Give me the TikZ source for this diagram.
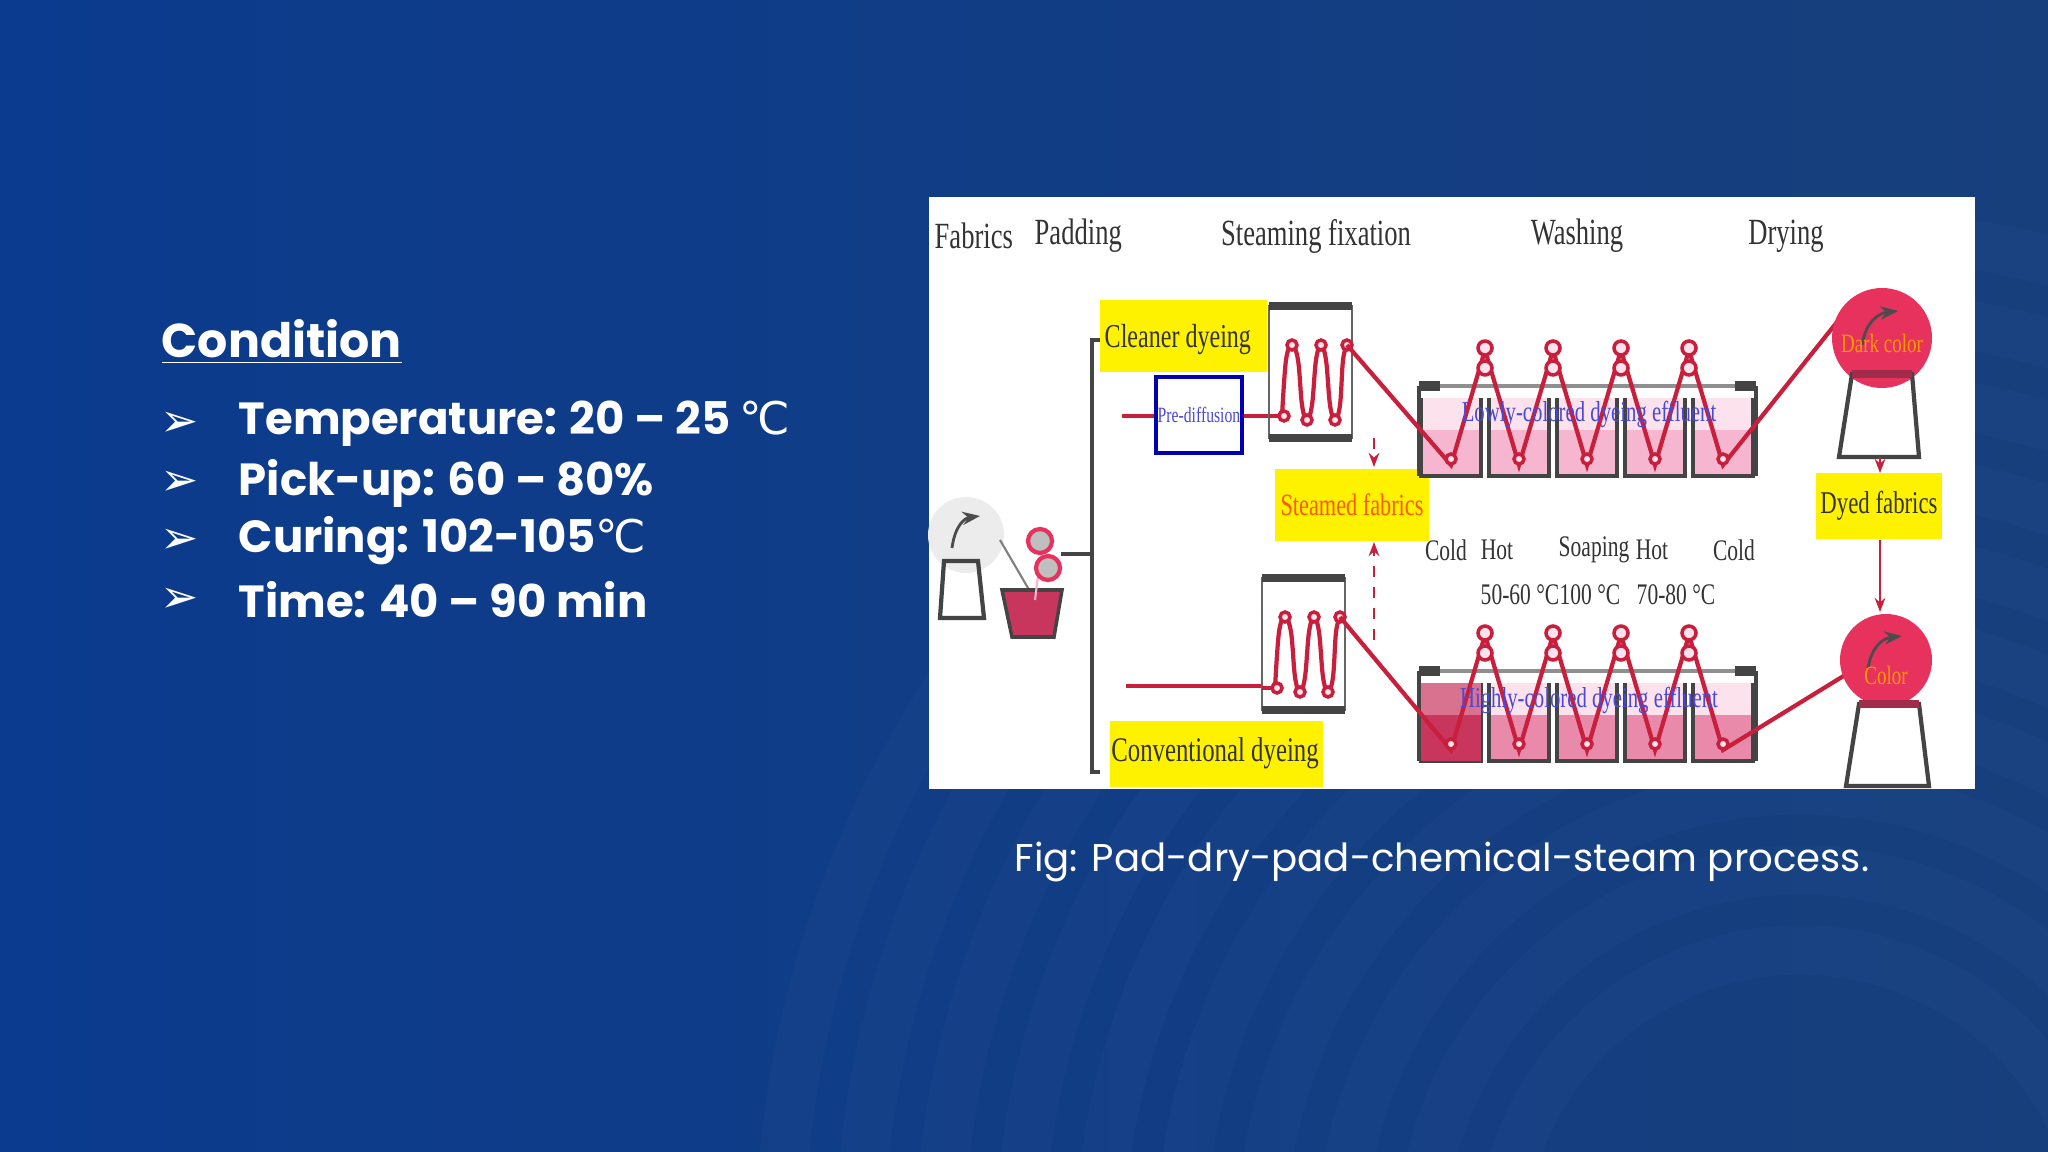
\documentclass[tikz,border=0pt]{standalone}
\usepackage{fontspec}
\setmainfont{Poppins}
\newfontfamily\symfont{DejaVu Sans}
\newfontfamily\figfont[FakeStretch=0.72]{Liberation Serif}
\usetikzlibrary{arrows.meta}
\definecolor{bgL}{HTML}{0B3B8E}
\definecolor{bgR}{HTML}{173F7C}
\definecolor{arc}{HTML}{2A5296}
\definecolor{rline}{HTML}{C8203C}
\definecolor{pinkA}{HTML}{F7B6CF}
\definecolor{pinkB}{HTML}{FBE2EC}
\definecolor{pinkC}{HTML}{E98AAA}
\definecolor{darkred}{HTML}{C8365E}
\definecolor{circ}{HTML}{E8325E}
\definecolor{frameg}{HTML}{444444}
\definecolor{eff}{HTML}{4A48D8}
\tikzset{
 slide/.style={text=white,font=\bfseries\fontsize{12.8}{16}\selectfont,anchor=west,inner sep=0},
 ftxt/.style={font=\figfont\fontsize{10.5}{11}\selectfont,text=black!80,inner sep=0},
 ybox/.style={fill=yellow,draw=none,inner sep=0},
 rl/.style={draw=rline,line width=1.2pt},
 knot/.style={draw=rline,line width=1pt,fill=pinkB},
 tank/.style={draw=frameg,line width=1.2pt},
 rot/.style={draw=black!70,line width=0.8pt,-{Stealth[length=5pt]}},
}
\begin{document}
\begin{tikzpicture}[x=0.01cm,y=-0.01cm]
\shade[left color=bgL,right color=bgR] (0,0) rectangle (2048,1152);
\useasboundingbox (0,0) rectangle (2048,1152);
\begin{scope}
\clip (0,0) rectangle (2048,1152);
\foreach \r in {300,380,460,540,620,700,780,860,940,1020}
 \draw[arc,opacity=0.18,line width=14pt] (1800,1250) circle (\r);
\end{scope}
% left text
\node[slide,font=\bfseries\fontsize{13.5}{16}\selectfont] (cond) at (161,342) {\underline{Condition}};
\foreach \y/\t [count=\i] in {424/{Temperature: 20 -- 25 {\symfont\mdseries ℃}},483/{Pick-up: 60 -- 80\%},541/{Curing: 102-105{\symfont\mdseries ℃}},600/{Time: 40 -- 90 min}}{
 \node[slide,font=\symfont\fontsize{13}{16}\selectfont] (b\i) at (160,\y) {➢};
 \node[slide] (t\i) at (238,\y) {\t};
}
\node[text=white,font=\fontsize{11}{13}\selectfont,inner sep=0] (cap) at (1442,862) {Fig: Pad-dry-pad-chemical-steam process.};
% figure
\fill[white] (929,197) rectangle (1975,789);
\node[ftxt,anchor=west] (h1) at (934,236) {Fabrics};
\node[ftxt,anchor=west] (h2) at (1034,236) {Padding};
\node[ftxt] (h3) at (1316,236) {Steaming fixation};
\node[ftxt] (h4) at (1577,236) {Washing};
\node[ftxt] (h5) at (1786,236) {Drying};
% fabrics roll and padding
\fill[gray!15] (966,535) circle (38);
\draw[rot] (952,548) .. controls (955,525) and (965,518) .. (980,516);
\draw[tank] (944,561) -- (978,561) -- (984,618) -- (940,618) -- cycle;
\draw[gray,line width=0.6pt] (1000,540) -- (1035,600);
\fill[darkred] (1002,590) -- (1062,590) -- (1054,637) -- (1012,637) -- cycle;
\draw[frameg,line width=1pt] (1002,590) -- (1062,590) -- (1054,637) -- (1012,637) -- cycle;
\draw[pinkA,line width=0.6pt] (1035,600) -- (1040,560);
\draw[circ,line width=1.2pt,fill=gray!50] (1040,541) circle (12);
\draw[circ,line width=1.2pt,fill=gray!50] (1048,568) circle (12);
\draw[frameg,line width=1.2pt] (1061,554) -- (1092,554);
% bracket
\draw[frameg,line width=1.2pt] (1100,340) -- (1092,340) -- (1092,772) -- (1100,772);
% cleaner/conventional
\node[ybox,minimum width=1.67cm,minimum height=0.72cm,anchor=north west] (cl) at (1099,299) {};
\node[ftxt,font=\figfont\fontsize{9.5}{10}\selectfont,anchor=west] at (1104,340) {Cleaner dyeing};
\node[ybox,minimum width=2.13cm,minimum height=0.66cm,anchor=north west] (cv) at (1109,720) {};
\node[ftxt,font=\figfont\fontsize{9.8}{10}\selectfont] at (1215,753) {Conventional dyeing};
% pre-diffusion
\draw[rl] (1122,416) -- (1269,416);
\node[draw=blue!70!black,line width=1.2pt,fill=white,minimum width=0.86cm,minimum height=0.76cm,inner sep=0] (pd) at (1199,415) {};
\node[ftxt,font=\figfont\fontsize{6.2}{7}\selectfont,text=eff] at (1199,415) {Pre-diffusion};
\draw[rl] (1126,686) -- (1262,686);
% steam boxes
\foreach \dx/\dy [count=\k] in {0/0,-7/272}{
\begin{scope}[shift={(\dx,\dy)}]
 \fill[white] (1269,306) rectangle (1352,438);
 \draw[black!60,line width=0.8pt] (1269,306) rectangle (1352,438);
 \draw[frameg,line width=2.5pt] (1269,306) -- (1352,306) (1269,438) -- (1352,438);
 \draw[rl] plot[smooth,tension=0.6] coordinates {(1282,416) (1286,360) (1292,345) (1298,360) (1302,405) (1307,420) (1312,405) (1316,360) (1321,345) (1326,360) (1330,405) (1335,420) (1340,405) (1343,360) (1347,345)};
 \draw[rl] (1269,416) -- (1282,416);
 \foreach \px/\py in {1292/345,1307/420,1321/345,1335/420,1347/345,1284/416}
  \draw[knot] (\px,\py) circle (5);
\end{scope}}
% steamed fabrics
\node[ybox,minimum width=1.53cm,minimum height=0.71cm] (sf) at (1352,505) {};
\node[ftxt,text=orange!70!red,font=\figfont\fontsize{8.8}{9}\selectfont] at (1352,505) {Steamed fabrics};
\draw[rline,dashed,line width=0.8pt,-{Stealth[length=4pt]}] (1374,438) -- (1374,467);
\draw[rline,dashed,line width=0.8pt,-{Stealth[length=4pt]}] (1374,640) -- (1374,542);
% washing tanks
\foreach \dy/\fa/\fb [count=\k] in {0/pinkA/pinkB,285/pinkC/pinkB}{
\begin{scope}[shift={(0,\dy)}]
 \foreach \cx [count=\j] in {1421,1489,1557,1625,1693}{
   \fill[\fb] (\cx,398) rectangle ++(60,78);
   \fill[\fa] (\cx,430) rectangle ++(60,46);
   \draw[frameg,line width=1pt] (\cx,398) -- (\cx,476) -- ++(60,0) -- ++(0,-78);
 }
 \draw[frameg!60,line width=1pt] (1419,386) -- (1756,386);
 \draw[frameg,line width=3pt] (1419,386) -- (1440,386) (1735,386) -- (1756,386);
 \draw[frameg,line width=1pt] (1419,386) -- (1419,476) (1756,386) -- (1756,476);
\end{scope}}
\fill[darkred] (1421,715) rectangle ++(60,46);
\fill[darkred!70] (1421,683) rectangle ++(60,32);
% washing paths
\draw[rl] (1347,345) -- (1451,465) -- (1485,350) -- (1519,465) -- (1553,350) -- (1587,465) -- (1621,350) -- (1655,465) -- (1689,350) -- (1723,465) -- (1845,312);
\draw[rl] (1340,617) -- (1451,750) -- (1485,635) -- (1519,750) -- (1553,635) -- (1587,750) -- (1621,635) -- (1655,750) -- (1689,635) -- (1723,750) -- (1850,672);
\foreach \dy in {0,285}{
 \foreach \rx in {1485,1553,1621,1689}{
  \draw[knot] (\rx,350+\dy-2) circle (7);
  \draw[knot] (\rx,368+\dy) circle (7);
 }
 \foreach \bx in {1451,1519,1587,1655,1723}
  \draw[knot] (\bx,459+\dy) circle (5);
}
\node[ftxt,text=eff,font=\figfont\fontsize{8.2}{9}\selectfont] (le) at (1589,414) {Lowly-colored dyeing effluent};
\node[ftxt,text=eff,font=\figfont\fontsize{8.2}{9}\selectfont] (he) at (1589,700) {Highly-colored dyeing effluent};
% labels
\foreach \x/\t in {1446/Cold,1497/Hot,1594/Soaping,1652/Hot,1734/Cold}
  \node[ftxt,font=\figfont\fontsize{8.5}{10}\selectfont] at (\x,550) {\t};
\foreach \x/\t in {1520/50-60 °C,1590/100 °C,1676/70-80 °C}
  \node[ftxt,font=\figfont\fontsize{8.5}{10}\selectfont] at (\x,595) {\t};
% drying
\fill[circ] (1882,338) circle (50);
\draw[rot] (1862,345) .. controls (1866,320) and (1880,313) .. (1898,311);
\node[ftxt,font=\figfont\fontsize{7.5}{9}\selectfont,text=orange!80!yellow] (dk) at (1882,343) {Dark color};
\draw[tank] (1852,374) -- (1912,374) -- (1919,457) -- (1839,457) -- cycle;
\draw[darkred!80!black,line width=2.5pt] (1852,374) -- (1912,374);
\node[ybox,minimum width=1.26cm,minimum height=0.65cm] (df) at (1879,506) {};
\node[ftxt,font=\figfont\fontsize{9}{10}\selectfont] at (1879,506) {Dyed fabrics};
\draw[rline,line width=0.8pt,-{Stealth[length=4pt]}] (1880,540) -- (1880,612);
\draw[rline,line width=0.8pt,-{Stealth[length=4pt]}] (1880,457) -- (1880,473);
\fill[circ] (1886,660) circle (46);
\draw[rot] (1868,668) .. controls (1872,645) and (1884,638) .. (1902,636);
\node[ftxt,font=\figfont\fontsize{7.5}{9}\selectfont,text=orange!80!yellow] (co) at (1886,675) {Color};
\draw[tank] (1859,704) -- (1919,704) -- (1929,786) -- (1846,786) -- cycle;
\draw[darkred!80!black,line width=2.5pt] (1859,704) -- (1919,704);
\end{tikzpicture}
\end{document}
